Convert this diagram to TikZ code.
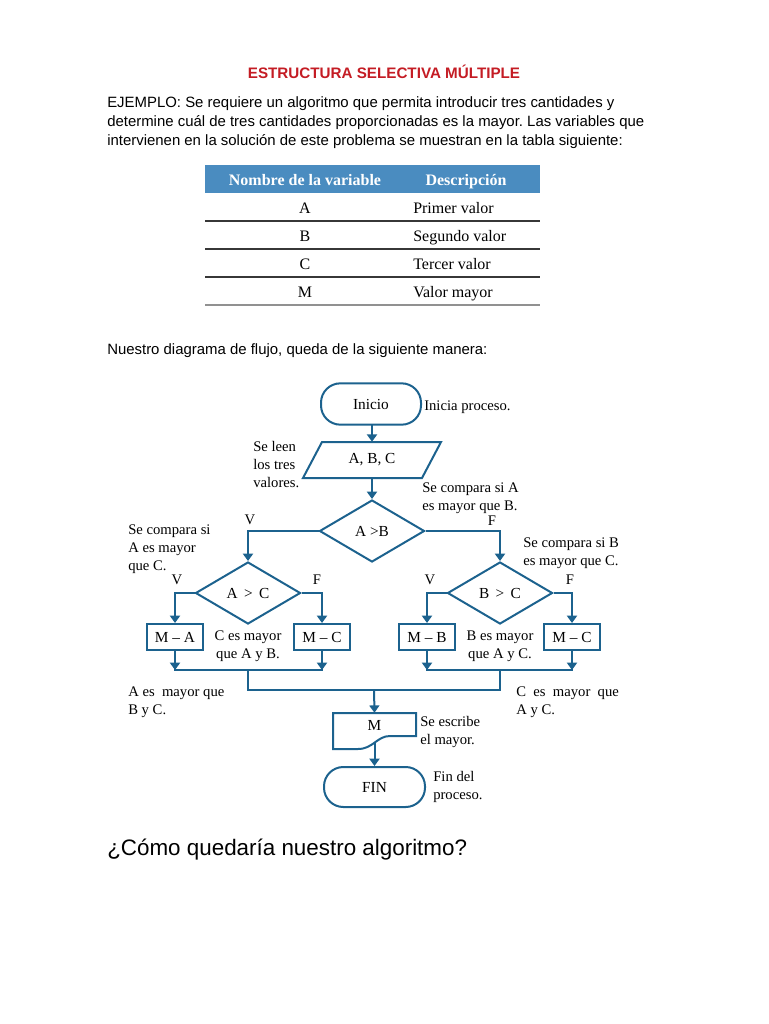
\documentclass[tikz,border=0pt]{standalone}
\usepackage{fontspec}
\setmainfont{Liberation Serif}
\newfontfamily\arialf{Liberation Sans}
\usetikzlibrary{shapes.geometric,arrows.meta}
\definecolor{flowc}{RGB}{28,98,142}
\definecolor{headc}{RGB}{74,140,192}
\definecolor{titlec}{RGB}{196,28,36}
\definecolor{rulec}{RGB}{55,55,55}
\frenchspacing
\begin{document}
\begin{tikzpicture}[x=0.75pt,y=-0.75pt,
  flow/.style={draw=flowc, line width=1.5pt},
  arr/.style={flow, -{Triangle[width=7.5pt,length=5.5pt]}},
  term/.style={flow, rounded corners=14.5pt, minimum width=75pt, minimum height=31pt, inner sep=0pt, font=\fontsize{11.5}{13}\selectfont},
  dia/.style={flow, shape=diamond, minimum width=78.75pt, minimum height=46.5pt, inner sep=0pt, font=\fontsize{11.5}{13}\selectfont},
  box/.style={flow, minimum width=42pt, minimum height=19.5pt, inner sep=0pt, font=\fontsize{11.5}{13}\selectfont},
  lbl/.style={font=\fontsize{11}{13.5}\selectfont, align=left, inner sep=0pt, anchor=north west},
  clbl/.style={font=\fontsize{11}{13.5}\selectfont, align=center, inner sep=0pt, anchor=north},
  vf/.style={font=\fontsize{11}{13}\selectfont, inner sep=0pt},
  body/.style={font=\arialf\fontsize{11.2}{14}\selectfont, inner sep=0pt, anchor=base west},
  tcell/.style={font=\fontsize{12}{14}\selectfont, inner sep=0pt},
  thead/.style={font=\bfseries\fontsize{12}{14}\selectfont, text=white, inner sep=0pt},
  trule/.style={draw=rulec, line width=1pt}
]
\useasboundingbox (0,0) rectangle (768,1024);

% ---------- title and paragraph ----------
\node[font=\arialf\bfseries\fontsize{11.4}{14}\selectfont, text=titlec, inner sep=0pt, anchor=base] (title) at (384,78.5) {ESTRUCTURA SELECTIVA MÚLTIPLE};
\node[body] (p1) at (107,107.5) {EJEMPLO: Se requiere un algoritmo que permita introducir tres cantidades y};
\node[body] (p2) at (107,126.5) {determine cuál de tres cantidades proporcionadas es la mayor. Las variables que};
\node[body] (p3) at (107,145.5) {intervienen en la solución de este problema se muestran en la tabla siguiente:};

% ---------- table ----------
\fill[headc] (205,165) rectangle (540,193);
\node[thead, anchor=base] (h1) at (305,185) {Nombre de la variable};
\node[thead, anchor=base] (h2) at (466,185) {Descripción};
\node[tcell, anchor=base] (a1) at (305,213) {A};
\node[tcell, anchor=base west] (a2) at (413,213) {Primer valor};
\node[tcell, anchor=base] (b1) at (305,241) {B};
\node[tcell, anchor=base west] (b2) at (413,241) {Segundo valor};
\node[tcell, anchor=base] (c1) at (305,269) {C};
\node[tcell, anchor=base west] (c2) at (413,269) {Tercer valor};
\node[tcell, anchor=base] (m1) at (305,297) {M};
\node[tcell, anchor=base west] (m2) at (413,297) {Valor mayor};
\draw[trule] (205,221) -- (540,221);
\draw[trule] (205,249) -- (540,249);
\draw[trule] (205,277) -- (540,277);
\draw[trule, draw=rulec!55, line width=0.8pt] (205,305) -- (540,305);

\node[body] (p4) at (107,354.5) {Nuestro diagrama de flujo, queda de la siguiente manera:};

% ---------- flowchart ----------
\node[term] (ini) at (371,404) {Inicio};
\node[inner sep=0pt, minimum width=75pt, minimum height=27pt] (abc) at (372,460) {\fontsize{11.5}{13}\selectfont A, B, C};
\draw[flow] (322,442) -- (441,442) -- (422,478) -- (303,478) -- cycle;
\node[dia] (ab) at (372,531) {A >B};
\node[dia] (ac) at (248,593) {A \,>\, C};
\node[dia] (bc) at (500,593) {B \,>\, C};
\node[box] (ma) at (175,637) {M – A};
\node[box] (mc1) at (322,637) {M – C};
\node[box] (mb) at (427,637) {M – B};
\node[box] (mc2) at (572,637) {M – C};
\coordinate (j1) at (248,670);
\coordinate (j2) at (500,670);
\coordinate (j3) at (374,690);
\node[inner sep=0pt, minimum width=62pt, minimum height=18pt] (doc) at (374.5,725) {\fontsize{11.5}{13}\selectfont M};
\draw[flow] (333,713) -- (416,713) -- (416,736) -- (390,736) .. controls (377,736) and (373,749) .. (358,749) -- (333,749) -- cycle;
\coordinate (docb) at (374.5,743);
\node[term, minimum width=75.75pt, minimum height=30pt] (fin) at (374.5,787) {FIN};

% connectors
\draw[arr] (372,425) -- (abc.north);
\draw[arr] (abc.south) -- (ab.north);
\draw[arr] (ab.west) -| (ac.north);
\draw[arr] (ab.east) -| (bc.north);
\draw[arr] (ac.west) -| (ma.north);
\draw[arr] (ac.east) -| (mc1.north);
\draw[arr] (bc.west) -| (mb.north);
\draw[arr] (bc.east) -| (mc2.north);
\draw[arr] (ma.south) -- (ma.south |- j1);
\draw[arr] (mc1.south) -- (mc1.south |- j1);
\draw[arr] (mb.south) -- (mb.south |- j2);
\draw[arr] (mc2.south) -- (mc2.south |- j2);
\draw[flow, line cap=rect] (ma.south |- j1) -- (mc1.south |- j1);
\draw[flow, line cap=rect] (mb.south |- j2) -- (mc2.south |- j2);
\draw[flow] (j1) -- (j1 |- j3) -- (j2 |- j3) -- (j2);
\draw[arr] (j3) -- (doc.north);
\draw[arr] (docb) -- (fin.north);

% labels
\node[vf] (v1) at (250,520) {V};
\node[vf] (f1) at (492,521) {F};
\node[vf] (v2) at (177,580) {V};
\node[vf] (f2) at (317,580) {F};
\node[vf] (v3) at (430,580) {V};
\node[vf] (f3) at (570,580) {F};

\node[lbl] (n1) at (424,401) {Inicia proceso.};
\node[lbl] (n2) at (253,441.5) {Se leen\\los tres\\valores.};
\node[lbl] (n3) at (422,483) {Se compara si A\\es mayor que B.};
\node[lbl] (n4) at (128,524.5) {Se compara si\\A es mayor\\que C.};
\node[lbl] (n5) at (523,537.5) {Se compara si B\\es mayor que C.};
\node[clbl] (n6) at (248,630.5) {C es mayor\\que A y B.};
\node[clbl] (n7) at (500,630.5) {B es mayor\\que A y C.};
\node[lbl] (n8) at (128,686.5) {A es\ \ mayor que\\B y C.};
\node[lbl] (n9) at (516,686.5) {C\ \ es\ \ mayor\ \ que\\A y C.};
\node[lbl] (n10) at (420,716.5) {Se escribe\\el mayor.};
\node[lbl] (n11) at (433,771.5) {Fin del\\proceso.};

% question
\node[font=\arialf\fontsize{16.8}{20}\selectfont, inner sep=0pt, anchor=base west] (q) at (107,855.5) {¿Cómo quedaría nuestro algoritmo?};
\end{tikzpicture}
\end{document}
